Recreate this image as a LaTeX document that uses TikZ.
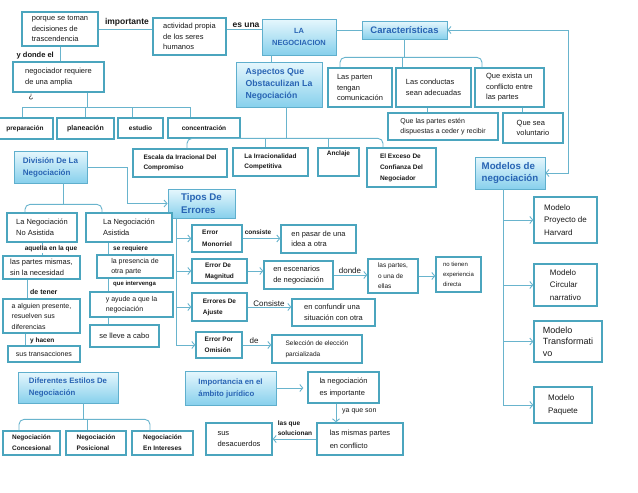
\documentclass[tikz,border=0pt]{standalone}
\usepackage{fontspec}
\setmainfont{Liberation Sans}
\usetikzlibrary{arrows.meta,calc}
\definecolor{bord}{RGB}{75,165,190}
\definecolor{hbord}{RGB}{95,175,205}
\definecolor{connc}{RGB}{105,180,205}
\definecolor{htop}{RGB}{230,247,253}
\definecolor{hbot}{RGB}{135,208,236}
\definecolor{htext}{RGB}{40,100,180}
\definecolor{txt}{RGB}{25,25,25}
\newcommand\mybox[7][]{%
  \pgfmathsetmacro\bw{#5-#3}\pgfmathsetmacro\bh{#6-#4}%
  \pgfmathsetmacro\bcx{(#3+#5)/2}\pgfmathsetmacro\bcy{(#4+#6)/2}%
  \node[box,minimum width=\bw pt,minimum height=\bh pt,#1] (#2) at (\bcx,\bcy) {#7};}
\tikzset{
  box/.style={draw=bord,line width=1.3pt,fill=white,inner sep=1pt,align=left,
    text=txt,font=\fontsize{7.5}{10.5}\selectfont},
  sbold/.style={font=\bfseries\fontsize{6.5}{10}\selectfont},
  hdr/.style={draw=hbord,line width=0.8pt,top color=htop,bottom color=hbot,
    text=htext,font=\bfseries\fontsize{8}{11}\selectfont},
  conn/.style={draw=connc,line width=0.9pt},
  arr/.style={conn,-{Straight Barb[length=3pt,width=7pt]}},
  lbl/.style={inner sep=1pt,text=txt,font=\bfseries\fontsize{7}{9}\selectfont},
  lblr/.style={inner sep=1pt,text=txt,font=\fontsize{7.5}{9}\selectfont},
}
\begin{document}
\begin{tikzpicture}[x=1pt,y=-1pt]
\useasboundingbox[fill=white] (0,0) rectangle (638,493);
% ---------- top row
\mybox{b1}{22}{12}{98}{46}{porque se toman\\decisiones de\\trascendencia}
\mybox{b2}{153}{18}{226}{55}{actividad propia\\de los seres\\humanos}
\mybox[hdr,align=center,font=\bfseries\fontsize{7.5}{12}\selectfont]{neg}{262}{19}{336}{55}{LA\\NEGOCIACION}
\mybox[hdr,align=center,font=\bfseries\fontsize{9.5}{10}\selectfont]{car}{362}{21}{447}{39}{Características}
\mybox{b3}{13}{62}{104}{92}{negociador requiere\\de una amplia}
\mybox[hdr,font=\bfseries\fontsize{8.7}{12}\selectfont]{asp}{236}{62}{322}{107}{Aspectos Que\\Obstaculizan La\\Negociación}
\mybox{c1}{328}{68}{392}{107}{Las parten\\tengan\\comunicación}
\mybox{c2}{396}{68}{471}{107}{Las conductas\\sean adecuadas}
\mybox{c3}{475}{68}{544}{107}{Que exista un\\conflicto entre\\las partes}
\mybox[font=\fontsize{7}{10.5}\selectfont]{c4}{388}{113}{498}{140}{Que las partes estén\\dispuestas a ceder y recibir}
\mybox{c5}{503}{113}{563}{143}{Que sea\\voluntario}
\mybox[sbold]{p1}{-3}{118}{53}{139}{preparación}
\mybox[sbold,font=\bfseries\fontsize{7}{10}\selectfont]{p2}{57}{118}{114}{139}{planeación}
\mybox[sbold]{p3}{118}{118}{163}{138}{estudio}
\mybox[sbold]{p4}{168}{118}{240}{138}{concentración}
\mybox[sbold]{e1}{133}{149}{227}{177}{Escala da Irracional Del\\Compromiso}
\mybox[sbold]{e2}{233}{148}{308}{176}{La Irracionalidad\\Competitiva}
\mybox[sbold]{e3}{318}{148}{359}{176}{Anclaje\\[8pt]}
\mybox[sbold,font=\bfseries\fontsize{6.5}{11}\selectfont]{e4}{367}{148}{436}{187}{El Exceso De\\Confianza Del\\Negociador}
\mybox[hdr,font=\bfseries\fontsize{8}{12}\selectfont]{div}{14}{151}{87}{183}{División De La\\Negociación}
\mybox[hdr,font=\bfseries\fontsize{9.7}{12.5}\selectfont]{mod}{475}{157}{545}{189}{Modelos de\\negociación}
\mybox[hdr,font=\bfseries\fontsize{9.7}{12.5}\selectfont]{tip}{168}{189}{235}{218}{Tipos De\\Errores}
% ---------- modelos
\mybox[font=\fontsize{8}{12.5}\selectfont]{m1}{534}{197}{597}{243}{Modelo\\Proyecto de\\Harvard}
\mybox[font=\fontsize{8}{12.5}\selectfont]{m2}{534}{264}{597}{306}{Modelo\\Circular\\narrativo}
\mybox[font=\fontsize{9}{11.5}\selectfont]{m3}{534}{321}{602}{362}{Modelo\\Transformati\\vo}
\mybox[font=\fontsize{8}{12.5}\selectfont]{m4}{534}{387}{592}{423}{Modelo\\Paquete}
% ---------- division
\mybox{na}{7}{213}{77}{242}{La Negociación\\No Asistida}
\mybox{as}{86}{213}{172}{242}{La Negociación\\Asistida}
\mybox{na1}{3}{256}{80}{279}{las partes mismas,\\sin la necesidad}
\mybox[font=\fontsize{7}{10.5}\selectfont]{na2}{3}{299}{80}{333}{a alguien presente,\\resuelven sus\\diferencias}
\mybox[font=\fontsize{7}{10}\selectfont]{na3}{8}{346}{80}{362}{sus transacciones}
\mybox[font=\fontsize{7}{10}\selectfont]{as1}{97}{255}{173}{278}{la presencia de\\otra parte}
\mybox[font=\fontsize{7}{10.5}\selectfont]{as2}{90}{292}{173}{317}{y ayude a que la\\negociación}
\mybox{as3}{90}{325}{159}{347}{se lleve a cabo}
% ---------- errores
\mybox[sbold,font=\bfseries\fontsize{6.5}{12}\selectfont]{t1}{192}{225}{242}{252}{Error\\Monorriel}
\mybox[sbold,font=\bfseries\fontsize{6.5}{11}\selectfont]{t2}{192}{259}{247}{283}{Error De\\Magnitud}
\mybox[sbold,font=\bfseries\fontsize{6.5}{11}\selectfont]{t3}{192}{293}{247}{321}{Errores De\\Ajuste}
\mybox[sbold,font=\bfseries\fontsize{6.5}{11}\selectfont]{t4}{196}{332}{242}{358}{Error Por\\Omisión}
\mybox{t1a}{281}{225}{356}{253}{en pasar de una\\idea a otra}
\mybox{t2a}{264}{261}{333}{289}{en escenarios\\de negociación}
\mybox[font=\fontsize{6.5}{10.5}\selectfont]{t2b}{368}{259}{418}{293}{las partes,\\o una de\\ellas}
\mybox[font=\fontsize{6}{10}\selectfont]{t2c}{436}{257}{481}{292}{no tienen\\experiencia\\directa}
\mybox{t3a}{292}{299}{375}{326}{en confundir una\\situación con otra}
\mybox[font=\fontsize{6.5}{11}\selectfont]{t4a}{272}{335}{362}{363}{Selección de elección\\parcializada}
% ---------- bottom
\mybox[hdr,font=\bfseries\fontsize{7.8}{12}\selectfont]{dif}{18}{372}{118}{403}{Diferentes Estilos De\\Negociación}
\mybox[hdr,font=\bfseries\fontsize{7.8}{12}\selectfont]{imp}{185}{371}{276}{405}{Importancia en el\\ámbito jurídico}
\mybox[font=\fontsize{7.5}{12}\selectfont]{i1}{308}{372}{379}{403}{la negociación\\es importante}
\mybox[font=\fontsize{7.5}{13}\selectfont]{i2}{317}{423}{403}{455}{las mismas partes\\en conflicto}
\mybox[font=\fontsize{7.5}{11}\selectfont]{i3}{206}{423}{272}{455}{sus\\desacuerdos}
\mybox[sbold,font=\bfseries\fontsize{6.5}{11}\selectfont]{d1}{3}{431}{60}{455}{Negociación\\Concesional}
\mybox[sbold,font=\bfseries\fontsize{6.5}{11}\selectfont]{d2}{66}{431}{126}{455}{Negociación\\Posicional}
\mybox[sbold,font=\bfseries\fontsize{6.5}{11}\selectfont]{d3}{132}{431}{193}{455}{Negociación\\En Intereses}
% ================= connectors
\draw[conn] (b1.east) -- (b1.east -| b2.west);
\node[lbl,font=\bfseries\fontsize{8.5}{10}\selectfont] (limp) at (127,22) {importante};
\draw[conn] (b2.east |- b1.east) -- (neg.west |- b1.east);
\node[lbl,font=\bfseries\fontsize{8.5}{10}\selectfont] (lesuna) at (246,25) {es una};
\draw[conn] (neg.east |- car.west) -- (car.west);
\draw[conn] ([xshift=-28pt]neg.south) -- ([xshift=-28pt]neg.south |- asp.north);
\draw[conn] (b1.south) -- (b1.south |- b3.north);
\node[lbl,font=\bfseries\fontsize{7.5}{9}\selectfont,anchor=east] (ldonde) at (55,56) {y donde el};
\node[lblr,font=\fontsize{8}{9}\selectfont] (lq) at (31,97) {¿};
% caracteristicas bracket
\coordinate (cj) at ([yshift=-18pt]car.south);
\draw[conn] (car.south) -- (cj);
\draw[conn,rounded corners=5pt] ([xshift=-20pt]c1.north) |- (cj) -| ([xshift=-27.5pt]c3.north);
\draw[conn] ([xshift=-31.5pt]c2.north) -- ([xshift=-31.5pt]c2.north |- cj);
\draw[conn] ([xshift=-6pt]c2.south) -- ([xshift=-6pt]c2.south |- c4.north);
\draw[conn] ([xshift=12.5pt]c3.south) -- ([xshift=12.5pt]c3.south |- c5.north);
% modelos <-> caracteristicas
\draw[conn,{Straight Barb[length=3pt,width=7pt]}-{Straight Barb[length=3pt,width=7pt]}] (mod.east) -- ++(23,0) |- (car.east);
% negociador bracket
\coordinate (bj) at ([xshift=28.5pt,yshift=-15pt]b3.south);
\draw[conn] ([xshift=28.5pt]b3.south) -- (bj);
\draw[conn] ([xshift=-3pt]p1.north) |- (bj) -| ([xshift=-14pt]p4.north);
\draw[conn] (p2.north) -- (p2.north |- bj);
\draw[conn] ([xshift=-8pt]p3.north) -- ([xshift=-8pt]p3.north |- bj);
% aspectos bracket
\coordinate (aj) at ([xshift=7pt,yshift=-31pt]asp.south);
\draw[conn] ([xshift=7pt]asp.south) -- (aj);
\draw[conn,rounded corners=5pt] ([xshift=7pt]e1.north) |- (aj) -| ([xshift=-18.5pt]e4.north);
\draw[conn] ([xshift=-5.5pt]e2.north) -- ([xshift=-5.5pt]e2.north |- aj);
\draw[conn] ([xshift=-10.5pt]e3.north) -- ([xshift=-10.5pt]e3.north |- aj);
% division
\draw[arr] (div.east) -| ($(div.east)!0.5!(tip.west)$) |- (tip.west);
\coordinate (dj) at ([xshift=12.5pt,yshift=-21pt]div.south);
\draw[conn] ([xshift=12.5pt]div.south) -- (dj);
\draw[conn,rounded corners=5pt] ([xshift=-17pt]na.north) |- (dj) -| ([xshift=-27pt]as.north);
\draw[conn] (na.south) -- (na.south |- na1.north);
\node[lbl,fill=white,font=\bfseries\fontsize{6.5}{8}\selectfont] (laq) at (51,249) {aquella en la que};
\draw[conn] ([xshift=-14.5pt]na1.south) -- ([xshift=-14.5pt]na1.south |- na2.north);
\node[lbl,anchor=west] (lde) at (29,292) {de tener};
\draw[conn] ([xshift=-16.5pt]na2.south) -- ([xshift=-16.5pt]na2.south |- na3.north);
\node[lbl,anchor=west,font=\bfseries\fontsize{6.5}{8}\selectfont] (lyh) at (29,341) {y hacen};
\draw[conn] ([xshift=-21pt]as.south) -- ([xshift=-21pt]as.south |- as1.north);
\node[lbl,anchor=west,font=\bfseries\fontsize{6.5}{8}\selectfont] (lsr) at (112,249) {se requiere};
\draw[conn] ([xshift=-23.5pt]as2.north |- as1.south) -- ([xshift=-23.5pt]as2.north);
\node[lbl,anchor=west,font=\bfseries\fontsize{6}{8}\selectfont] (lqi) at (112,284) {que intervenga};
\draw[conn] ([xshift=-23.5pt]as2.south) -- ([xshift=-23.5pt]as2.south |- as3.north);
% tipos de errores
\draw[arr] ([xshift=-25.5pt]tip.south) |- (t1.west);
\draw[arr] ([xshift=-25.5pt]tip.south) |- (t2.west);
\draw[arr] ([xshift=-25.5pt]tip.south) |- (t3.west);
\draw[arr] ([xshift=-25.5pt]tip.south) |- (t4.west);
\draw[arr] (t1.east) -- (t1.east -| t1a.west);
\node[lbl,font=\bfseries\fontsize{6.5}{8}\selectfont] (lcons) at (258,232) {consiste};
\draw[arr] (t2.east) -- (t2.east -| t2a.west);
\draw[arr] (t2a.east) -- (t2a.east -| t2b.west);
\node[lblr,font=\fontsize{8}{9}\selectfont] (ldonde2) at (350,271) {donde};
\draw[arr] (t2b.east) -- (t2b.east -| t2c.west);
\draw[arr] (t3.east) -- (t3.east -| t3a.west);
\node[lblr,font=\fontsize{8}{9}\selectfont] (lcons2) at (269,304) {Consiste};
\draw[arr] (t4.east) -- (t4.east -| t4a.west);
\node[lblr,font=\fontsize{8}{9}\selectfont] (lde2) at (254,341) {de};
% modelos
\draw[arr] ([xshift=-7pt]mod.south) |- (m1.west);
\draw[arr] ([xshift=-7pt]mod.south) |- (m2.west);
\draw[arr] ([xshift=-7pt]mod.south) |- (m3.west);
\draw[arr] ([xshift=-7pt]mod.south) |- (m4.west);
% estilos
\coordinate (ej) at ([xshift=15pt,yshift=-16pt]dif.south);
\draw[conn] ([xshift=15pt]dif.south) -- (ej);
\draw[conn,rounded corners=5pt] ([xshift=-12.5pt]d1.north) |- (ej) -| ([xshift=-12.5pt]d3.north);
\draw[conn] ([xshift=-9pt]d2.north) -- ([xshift=-9pt]d2.north |- ej);
% importancia
\draw[arr,shorten >=4pt] (imp.east) -- (imp.east -| i1.west);
\draw[arr] ([xshift=-7.5pt]i1.south) -- ([xshift=-7.5pt]i1.south |- i2.north);
\node[lblr,anchor=west,font=\fontsize{7}{9}\selectfont] (lyqs) at (341,411) {ya que son};
\draw[arr] (i2.west) -- (i2.west -| i3.east);
\node[lbl,align=left,font=\bfseries\fontsize{6.5}{10}\selectfont] (lsol) at (295,428) {las que\\solucionan};
\end{tikzpicture}
\end{document}
